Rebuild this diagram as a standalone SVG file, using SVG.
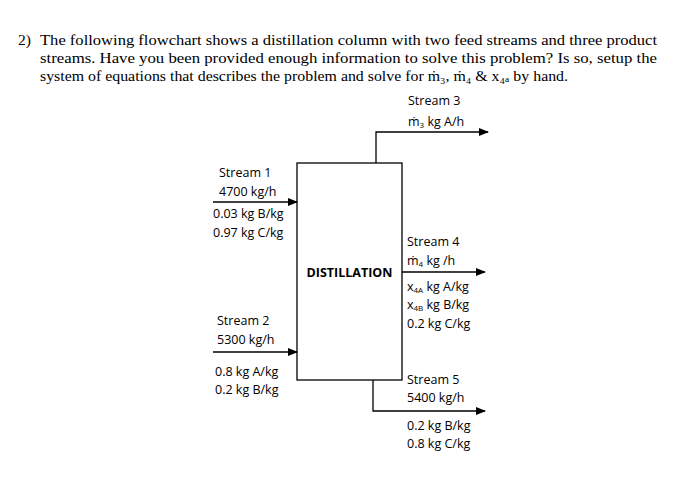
<svg xmlns="http://www.w3.org/2000/svg" width="700" height="493" viewBox="0 0 700 493">
<defs>
<marker id="ah" markerWidth="10" markerHeight="8" refX="9" refY="4" orient="auto" markerUnits="userSpaceOnUse"><path d="M0,0 L10,4 L0,8 Z" fill="#000"/></marker>
<style>
.h{font-family:"Liberation Serif",serif;font-size:15.5px;fill:#000}
.t{font-family:"Open Sans","Noto Sans",sans-serif;font-size:12.5px;fill:#000}
.b{font-family:"Open Sans","Noto Sans",sans-serif;font-size:12.5px;font-weight:bold;fill:#000}
.c{fill:none;stroke:#000;stroke-width:1.3}
</style>
</defs>
<rect width="700" height="493" fill="#fff"/>
<text class="h" x="18" y="45">2)</text>
<text class="h" x="40" y="45" textLength="617" lengthAdjust="spacingAndGlyphs">The following flowchart shows a distillation column with two feed streams and three product</text>
<text class="h" x="40" y="63" textLength="617" lengthAdjust="spacingAndGlyphs">streams. Have you been provided enough information to solve this problem? Is so, setup the</text>
<text class="h" x="40" y="81" textLength="528" lengthAdjust="spacingAndGlyphs">system of equations that describes the problem and solve for ṁ₃, ṁ₄ &amp; x₄ₐ by hand.</text>
<g id="distillation">
<rect x="297" y="163" width="105" height="217" fill="#fff" stroke="#000" stroke-width="1.3"/>
<text class="b" x="349.5" y="277" text-anchor="middle">DISTILLATION</text>
</g>
<g id="connectors">
<path class="c" d="M213,202 H297" marker-end="url(#ah)"/>
<path class="c" d="M213,352 H297" marker-end="url(#ah)"/>
<path class="c" d="M376,163 V132 H488" marker-end="url(#ah)"/>
<path class="c" d="M402,272 H485" marker-end="url(#ah)"/>
<path class="c" d="M373,380 V411 H485" marker-end="url(#ah)"/>
</g>
<g id="stream1">
<text class="t" x="219" y="177">Stream 1</text>
<text class="t" x="219" y="196">4700 kg/h</text>
<text class="t" x="213" y="218">0.03 kg B/kg</text>
<text class="t" x="213" y="237">0.97 kg C/kg</text>
</g>
<g id="stream2">
<text class="t" x="217" y="325">Stream 2</text>
<text class="t" x="217" y="344">5300 kg/h</text>
<text class="t" x="215" y="376">0.8 kg A/kg</text>
<text class="t" x="215" y="394">0.2 kg B/kg</text>
</g>
<g id="stream3">
<text class="t" x="408" y="105">Stream 3</text>
<text class="t" x="408" y="126">ṁ<tspan font-size="8" dy="2">3</tspan><tspan dy="-2"> kg A/h</tspan></text>
</g>
<g id="stream4">
<text class="t" x="407" y="246">Stream 4</text>
<text class="t" x="407" y="265">ṁ<tspan font-size="8" dy="2">4</tspan><tspan dy="-2"> kg /h</tspan></text>
<text class="t" x="407" y="291">x<tspan font-size="8" dy="2">4A</tspan><tspan dy="-2"> kg A/kg</tspan></text>
<text class="t" x="407" y="309">x<tspan font-size="8" dy="2">4B</tspan><tspan dy="-2"> kg B/kg</tspan></text>
<text class="t" x="407" y="328">0.2 kg C/kg</text>
</g>
<g id="stream5">
<text class="t" x="407" y="384">Stream 5</text>
<text class="t" x="407" y="402">5400 kg/h</text>
<text class="t" x="407" y="430">0.2 kg B/kg</text>
<text class="t" x="407" y="448">0.8 kg C/kg</text>
</g>
</svg>
